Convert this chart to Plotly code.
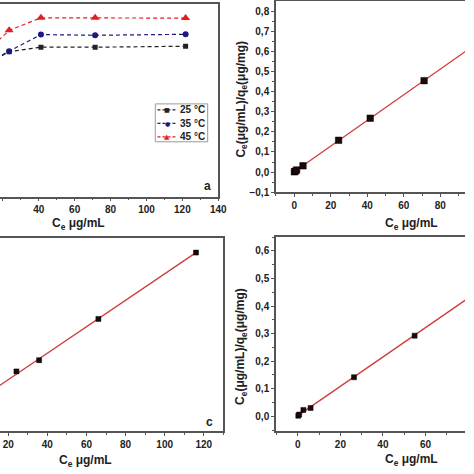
import numpy as np
import plotly.graph_objects as go

# ---------------- data ----------------
# panel a : adsorption isotherms (qe vs Ce)
ce_a = [0.3, 1.5, 5.0, 23.5, 41.2, 71.4, 121.8]
qe_25 = [17, 52, 131, 150.5, 155.1, 155.1, 156.1]
qe_35 = [18, 55, 132, 151.0, 168.2, 167.5, 168.5]
qe_45 = [20, 60, 140, 172.6, 185.6, 185.6, 185.3]
legend_labels = ["25 °C", "35 °C", "45 °C"]

# panel b : Langmuir plot
ce_b = [0.1, 0.5, 1.3, 4.8, 24.3, 41.6, 71.1, 121.8]
ratio_b = [0.001, 0.004, 0.010, 0.031, 0.158, 0.268, 0.455, 0.780]

# panel c
ce_c = [0.6, 3.0, 6.5, 24.2, 35.8, 66.1, 116.0]
ratio_c = [0.020, 0.034, 0.056, 0.179, 0.231, 0.423, 0.731]

# panel d
ce_d = [0.2, 0.6, 2.6, 6.0, 26.4, 54.9, 113.0]
ratio_d = [0.002, 0.006, 0.023, 0.030, 0.1415, 0.2925, 0.605]

panel_letters = ["a", "c"]

# ---------------- style ----------------
FONT = "Liberation Sans, Arial, sans-serif"
AX = "#555555"
RED = "#d03a3a"

fig = go.Figure()

# panel a traces
series_a = [(qe_25, "#222222", "square", 5, "■"), (qe_35, "#1a1a80", "circle", 6, "●"),
            (qe_45, "#e41e1e", "triangle-up", 8, "▲")]
for (vals, col, sym, sz, g), lab in zip(series_a, legend_labels):
    fig.add_trace(go.Scatter(x=ce_a, y=vals, mode="lines+markers", name=lab, showlegend=False,
                             line=dict(color=col, width=1.2, dash="4px,3px"),
                             marker=dict(symbol=sym, size=sz, color=col),
                             xaxis="x", yaxis="y"))


def fit_line(xs, ys, x0, x1, xa, ya):
    k, b = np.polyfit(xs, ys, 1)
    xx = np.array([x0, x1])
    fig.add_trace(go.Scatter(x=xx, y=k * xx + b, mode="lines", showlegend=False,
                             line=dict(color=RED, width=1.3), xaxis=xa, yaxis=ya))


def pts(xs, ys, xa, ya, sz):
    fig.add_trace(go.Scatter(x=xs, y=ys, mode="markers", showlegend=False,
                             marker=dict(symbol="square", size=sz, color="#1a0a0a",
                                         line=dict(color="#000", width=0.5)),
                             xaxis=xa, yaxis=ya))


fit_line(ce_b, ratio_b, 0, max(ce_b), "x2", "y2")
pts(ce_b, ratio_b, "x2", "y2", 6.5)
fit_line(ce_c, ratio_c, 0, max(ce_c), "x3", "y3")
pts(ce_c, ratio_c, "x3", "y3", 5)
fit_line(ce_d, ratio_d, 0, max(ce_d), "x4", "y4")
pts(ce_d, ratio_d, "x4", "y4", 5)

tickfont = dict(family=FONT, size=10, color="#222", weight="bold")


def xax(domain, rng, anchor, dtick):
    return dict(domain=domain, range=rng, anchor=anchor, showline=True, mirror=True,
                linecolor=AX, linewidth=1.5, ticks="outside", ticklen=3, tickwidth=1,
                tickcolor=AX, dtick=dtick, tick0=0, showgrid=False, zeroline=False,
                tickfont=tickfont, minor=dict(ticks="outside", ticklen=2, dtick=dtick / 2,
                                              tickcolor=AX, showgrid=False))


def yax_hidden(domain, rng, anchor):
    return dict(domain=domain, range=rng, anchor=anchor, side="right", showline=True,
                linecolor=AX, linewidth=1.5, showticklabels=False, ticks="",
                showgrid=False, zeroline=False)


def yax_left(domain, rng, anchor):
    return dict(domain=domain, range=rng, anchor=anchor, showline=True, linecolor=AX,
                linewidth=1.5, ticks="outside", ticklen=3, tickcolor=AX, dtick=0.1, tick0=0,
                tickformat=".1f", showgrid=False, zeroline=False, tickfont=tickfont,
                minor=dict(ticks="outside", ticklen=2, dtick=0.05, tickcolor=AX, showgrid=False))


W = 474.0
def px_x(p):
    return p / W
def px_y(p):
    return 1 - p / W

layout = dict(
    width=474, height=474, margin=dict(l=0, r=0, t=0, b=0),
    paper_bgcolor="white", plot_bgcolor="white", separators=",.",
    font=dict(family=FONT, color="#222"),
    xaxis=xax([0, px_x(222.5)], [18.4, 140], "y", 20),
    yaxis=yax_hidden([px_y(198.7), px_y(4)], [0, 200], "x"),
    xaxis2=xax([px_x(281.3), 1], [-10, 93.5], "y2", 20),
    yaxis2=yax_left([px_y(194.3), px_y(1.5)], [-0.1005, 0.849], "x2"),
    xaxis3=xax([0, px_x(227.7)], [15.8, 130], "y3", 20),
    yaxis3=yax_hidden([px_y(436), px_y(240.3)], [-0.1, 0.8], "x3"),
    xaxis4=xax([px_x(281.3), 1], [-10.3, 78.6], "y4", 20),
    yaxis4=yax_left([px_y(436), px_y(239.7)], [-0.055, 0.65], "x4"),
    showlegend=False,
)
fig.update_layout(**layout)

xt = "<b>C<sub>e</sub> μg/mL</b>"
yt = "<b>C<sub>e</sub>(μg/mL)/q<sub>e</sub>(μg/mg)</b>"
tf = dict(family=FONT, size=12, color="#222")
ann = [
    dict(text=xt, x=px_x(80), y=px_y(226.7)),
    dict(text=xt, x=px_x(419.7), y=px_y(226.7)),
    dict(text=xt, x=px_x(87.3), y=px_y(466)),
    dict(text=xt, x=px_x(419.7), y=px_y(465)),
    dict(text=yt, x=px_x(246.3), y=px_y(100), textangle=-90),
    dict(text=yt, x=px_x(246.3), y=px_y(350), textangle=-90),
    dict(text="<b>%s</b>" % panel_letters[0], x=px_x(212), y=px_y(187.7)),
    dict(text="<b>%s</b>" % panel_letters[1], x=px_x(213.7), y=px_y(426)),
]
for a in ann:
    a.update(xref="paper", yref="paper", showarrow=False, xanchor="center", yanchor="middle",
             font=tf)
    fig.add_annotation(**a)

# compact legend box for panel a (drawn as layout decoration)
fig.add_shape(type="rect", xref="paper", yref="paper", x0=px_x(158.3), x1=px_x(211.7),
              y0=px_y(143.3), y1=px_y(105), line=dict(color="#999", width=1),
              fillcolor="white", layer="above")
row_y = [111, 124.7, 138.3]
for (vals, col, sym, sz, g), lab, ry in zip(series_a, legend_labels, row_y):
    fig.add_shape(type="line", xref="paper", yref="paper", x0=px_x(160.5), x1=px_x(180),
                  y0=px_y(ry), y1=px_y(ry), line=dict(color=col, width=1.2, dash="3px,2px"),
                  layer="above")
    fig.add_annotation(text=g, x=px_x(170.3), y=px_y(ry), xref="paper", yref="paper",
                       showarrow=False, xanchor="center", yanchor="middle",
                       font=dict(family="DejaVu Sans", size=6 if g != "▲" else 7, color=col))
    fig.add_annotation(text="<b>%s</b>" % lab, x=px_x(181.5), y=px_y(ry), xref="paper",
                       yref="paper", showarrow=False, xanchor="left", yanchor="middle",
                       font=dict(family=FONT, size=10, color="#222"))

fig.write_html("out.html")
